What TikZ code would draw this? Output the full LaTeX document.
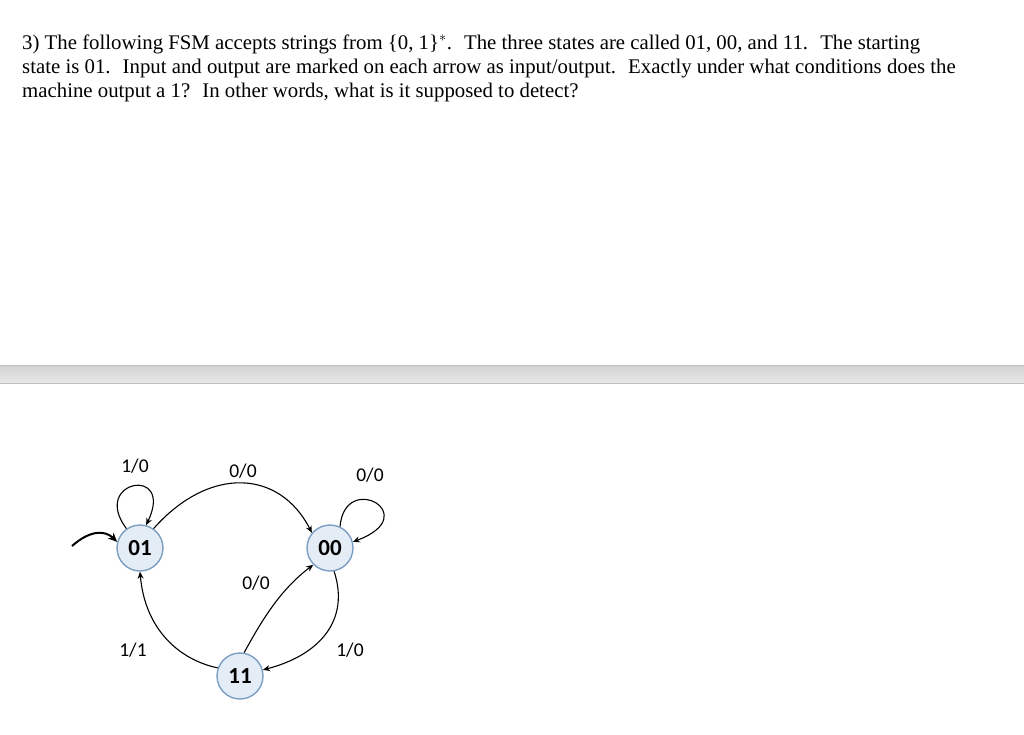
\documentclass[tikz,border=0pt]{standalone}
\usepackage{fontspec}
\setmainfont{Liberation Serif}
\newfontfamily\lblfont{Carlito}
\usetikzlibrary{arrows.meta}
\definecolor{stfill}{HTML}{E4ECF6}
\definecolor{stdraw}{HTML}{7C9EC2}
\begin{document}
\begin{tikzpicture}[x=1pt,y=-1pt,
  txt/.style={anchor=base west,inner sep=0,font=\fontsize{20.8}{24}\selectfont},
  st/.style={circle,draw=stdraw,fill=stfill,line width=1.4pt,minimum size=46pt,inner sep=0,font=\lblfont\bfseries\fontsize{23}{25}\selectfont},
  lbl/.style={inner sep=0,font=\lblfont\fontsize{19.5}{21}\selectfont},
  tr/.style={-{Stealth[length=7pt,width=6pt]},line width=1.1pt}]
\useasboundingbox (0,0) rectangle (1024,734);
\node[txt] (l1) at (22,49) {3) The following FSM accepts strings from \{0, 1\}$^*$. \ The three states are called 01, 00, and 11. \ The starting};
\node[txt] (l2) at (22,73) {state is 01. \ Input and output are marked on each arrow as input/output. \ Exactly under what conditions does the};
\node[txt] (l3) at (22,97) {machine output a 1? \ In other words, what is it supposed to detect?};
\shade[top color=gray!35,bottom color=gray!18] (0,365) rectangle (1024,383);
\draw[gray!50,line width=0.8pt] (0,365)--(1024,365) (0,383)--(1024,383);
\node[st] (s01) at (140,548) {01};
\node[st] (s00) at (330,548) {00};
\node[st] (s11) at (240,676) {11};
\coordinate (init) at (72,546);
\draw[-{Stealth[length=9pt,width=8pt]},line width=2pt] (init) .. controls (90,530) and (105,530) .. (s01.165);
\draw[tr] (s01.125) .. controls (90,480) and (175,465) .. (s01.75);
\draw[tr] (s01.55) .. controls (210,465) and (280,470) .. (s00.140);
\draw[tr] (s00.65) .. controls (345,470) and (425,515) .. (s00.15);
\draw[tr] (s11.80) .. controls (262,620) and (280,590) .. (s00.225);
\draw[tr] (s00.280) .. controls (350,620) and (320,655) .. (s11.15);
\draw[tr] (s11.160) .. controls (180,660) and (145,630) .. (s01.270);
\node[lbl] (a) at (135,466) {1/0};
\node[lbl] (b) at (243,471) {0/0};
\node[lbl] (c) at (370,475) {0/0};
\node[lbl] (d) at (256,583) {0/0};
\node[lbl] (e) at (133,650) {1/1};
\node[lbl] (f) at (350,650) {1/0};
\end{tikzpicture}
\end{document}
